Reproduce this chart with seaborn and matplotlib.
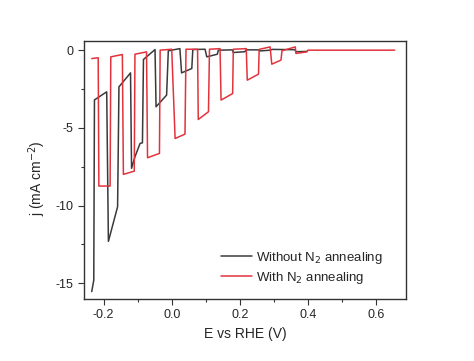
import matplotlib
matplotlib.use('Agg')
import matplotlib.pyplot as plt
import seaborn as sns
import pandas as pd
from matplotlib.ticker import MultipleLocator

# chopped LSV traces
E_without = [-0.235, -0.229, -0.227, -0.191, -0.186, -0.159, -0.155, -0.121, -0.118, -0.108,
             -0.093, -0.086, -0.083, -0.049, -0.046, -0.015, -0.010, 0.024, 0.029, 0.059,
             0.062, 0.098, 0.103, 0.134, 0.137, 0.178, 0.181, 0.215, 0.218, 0.255, 0.258,
             0.290, 0.295, 0.362, 0.365, 0.397]
j_without = [-15.53, -14.8, -3.2, -2.68, -12.3, -10.07, -2.36, -1.46, -7.6, -6.86,
             -6.0, -5.96, -0.6, 0.04, -3.64, -2.89, -0.04, 0.1, -1.46, -1.18,
             0.04, 0.06, -0.43, -0.26, 0.0, 0.02, -0.15, -0.1, 0.02, 0.02, -0.05,
             0.0, 0.05, 0.03, -0.1, -0.08]

E_with = [-0.235, -0.216, -0.214, -0.181, -0.179, -0.145, -0.142, -0.110, -0.108, -0.074,
          -0.071, -0.036, -0.034, 0.000, 0.010, 0.039, 0.042, 0.076, 0.078, 0.108,
          0.111, 0.142, 0.145, 0.179, 0.181, 0.219, 0.222, 0.255, 0.257, 0.289,
          0.294, 0.321, 0.324, 0.363, 0.365, 0.397, 0.400, 0.655]
j_with = [-0.54, -0.49, -8.74, -8.74, -0.43, -0.28, -7.99, -7.78, -0.26, -0.11,
          -6.92, -6.64, 0.0, 0.06, -5.68, -5.4, 0.06, 0.06, -4.46, -3.96,
          0.06, 0.1, -3.21, -2.79, 0.06, 0.1, -1.93, -1.54, 0.05, 0.21,
          -0.9, -0.64, -0.04, 0.21, -0.21, -0.11, 0.0, 0.0]

df = pd.concat([
    pd.DataFrame({'E': E_without, 'j': j_without, 'sample': 'Without N$_2$ annealing'}),
    pd.DataFrame({'E': E_with, 'j': j_with, 'sample': 'With N$_2$ annealing'}),
], ignore_index=True)

sns.set_style('ticks')
plt.rcParams['font.family'] = ['Liberation Sans', 'DejaVu Sans']

fig = plt.figure(figsize=(4.74, 3.61), dpi=100)
ax = fig.add_axes([0.177, 0.172, 0.680, 0.714])

sns.lineplot(data=df, x='E', y='j', hue='sample', sort=False, estimator=None,
             palette=['#3a3a3a', '#e2333d'], linewidth=1.1, ax=ax)

ax.set_xlim(-0.258, 0.689)
ax.set_ylim(-16.0, 0.58)
ax.xaxis.set_major_locator(MultipleLocator(0.2))
ax.xaxis.set_minor_locator(MultipleLocator(0.1))
ax.yaxis.set_major_locator(MultipleLocator(5))
ax.yaxis.set_minor_locator(MultipleLocator(2.5))
ax.set_xticks([-0.2, 0.0, 0.2, 0.4, 0.6])
ax.set_xticklabels(['-0.2', '0.0', '0.2', '0.4', '0.6'])
ax.set_yticks([0, -5, -10, -15])
ax.set_yticklabels(['0', '-5', '-10', '-15'])
ax.tick_params(which='major', length=4, width=0.8, labelsize=9, color='#333333')
ax.tick_params(which='minor', length=2.5, width=0.8, color='#333333')
for sp in ax.spines.values():
    sp.set_linewidth(1.0)
    sp.set_color('#333333')

ax.set_xlabel('E vs RHE (V)', fontsize=10)
ax.set_ylabel('j (mA cm$^{-2}$)', fontsize=10)
ax.yaxis.set_label_coords(-0.112, 0.47)

ax.legend(loc='lower right', bbox_to_anchor=(0.969, 0.0), frameon=False, fontsize=9.5,
          handlelength=2.3, handletextpad=0.35, borderaxespad=0.6, labelspacing=0.3)

fig.savefig('out.png', dpi=100)
